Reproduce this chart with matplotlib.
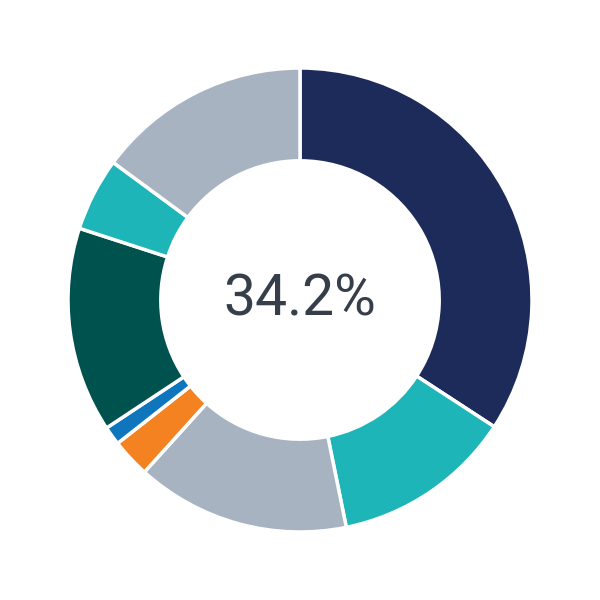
import matplotlib
matplotlib.use("Agg")
import matplotlib.pyplot as plt

labels = ["A", "B", "C", "D", "E", "F", "G", "H"]
values = [34.2, 12.6, 14.9, 2.7, 1.3, 14.3, 5.1, 14.9]
colors = ["#1c2b5a", "#1db5b8", "#a8b3c2", "#f58220", "#0f75bc", "#00524f", "#1db5b8", "#a8b3c2"]
center_label = "34.2%"

fig = plt.figure(figsize=(6, 6), dpi=100)
ax = fig.add_axes([0, 0, 1, 1])
ax.pie(values, colors=colors, startangle=90, counterclock=False, radius=1.0,
       wedgeprops=dict(width=0.4, edgecolor="white", linewidth=2.5))
lim = 300 / 232
ax.set_xlim(-lim, lim)
ax.set_ylim(-lim, lim)
ax.set_aspect("equal")
ax.axis("off")
ax.text(0, 0, center_label, ha="center", va="center", fontsize=41,
        color="#363e4a", family="Roboto", fontweight="normal")
fig.savefig("out.png", dpi=100)
